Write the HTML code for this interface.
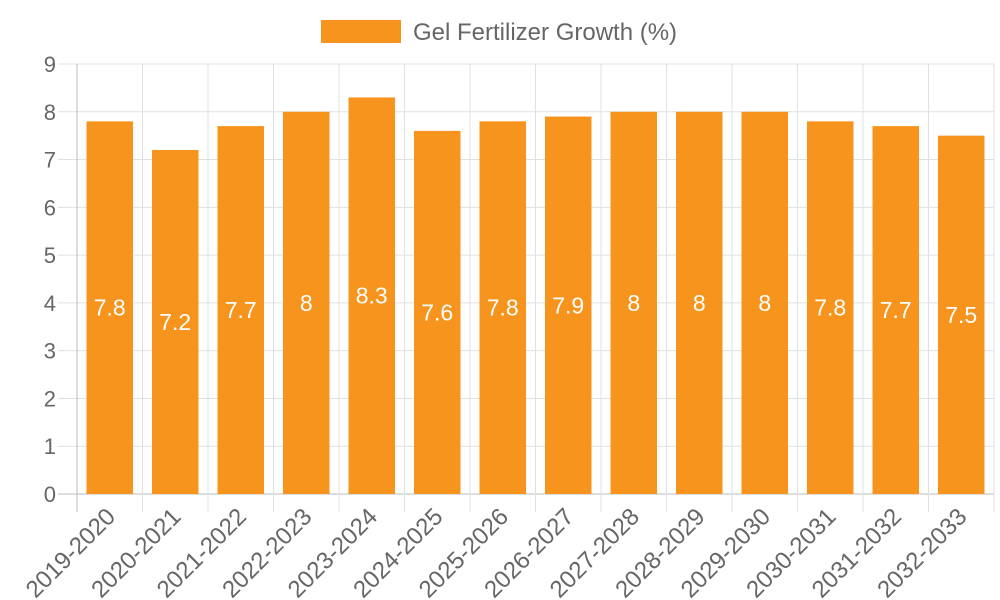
<!DOCTYPE html>
<html><head><meta charset="utf-8"><style>
html,body{margin:0;padding:0;background:#fff;width:1000px;height:600px;overflow:hidden}
svg{font-family:"Liberation Sans",Arial,sans-serif}
</style></head><body>
<svg id="chart" width="1000" height="600">
<g>
<rect x="321" y="20" width="80" height="23" fill="#f7941d"/>
<text x="413" y="40" font-size="24" fill="#666">Gel Fertilizer Growth (%)</text>
</g>
<g id="grid"></g><g id="bars"></g><g id="labels"></g>
</svg>
<script>
const categories=["2019-2020","2020-2021","2021-2022","2022-2023","2023-2024","2024-2025","2025-2026","2026-2027","2027-2028","2028-2029","2029-2030","2030-2031","2031-2032","2032-2033"];
const values=[7.8,7.2,7.7,8,8.3,7.6,7.8,7.9,8,8,8,7.8,7.7,7.5];
const yTicks=[0,1,2,3,4,5,6,7,8,9];
const NS="http://www.w3.org/2000/svg";
const L=77,R=994,T=64,B=494,yMax=9;
const step=(R-L)/categories.length;
function y(v){return B-(v/yMax)*(B-T);}
function x(i){return L+step*i;}
function mk(tag,attrs,parent,txt){const e=document.createElementNS(NS,tag);for(const k in attrs)e.setAttribute(k,attrs[k]);if(txt!==undefined)e.textContent=txt;parent.appendChild(e);return e;}
const grid=document.getElementById('grid'),bars=document.getElementById('bars'),labels=document.getElementById('labels');
yTicks.forEach(t=>{
  const g=mk('line',{x1:58,x2:R,y1:y(t),y2:y(t),stroke:t===0?'#bbb':'#e0e0e0','stroke-width':1},grid);
  
  
  const tx=mk('text',{x:56,y:y(t)+8,'font-size':22,fill:'#666','text-anchor':'end'},labels,String(t));
  
  
});
for(let i=0;i<=categories.length;i++){
  const g=mk('line',{x1:x(i),x2:x(i),y1:T,y2:B+18,stroke:i===0?'#bbb':'#e0e0e0','stroke-width':1},grid);
  
  
}
categories.forEach((c,i)=>{
  const cx=x(i)+step/2,bw=step*0.71,v=values[i];
  const r=mk('rect',{x:cx-bw/2,y:y(v),width:bw,height:B-y(v),fill:'#f7941d'},bars);
  
  
  const vl=mk('text',{x:cx,y:(y(v)+B)/2+8,'font-size':23,fill:'#fff','text-anchor':'middle'},labels,String(v));
  
  
  const xl=mk('text',{x:0,y:0,'font-size':24,fill:'#666','text-anchor':'end',transform:`translate(${cx+7},${B+24}) rotate(-45)`},labels,c);
  
  
});
</script>
</body></html>
